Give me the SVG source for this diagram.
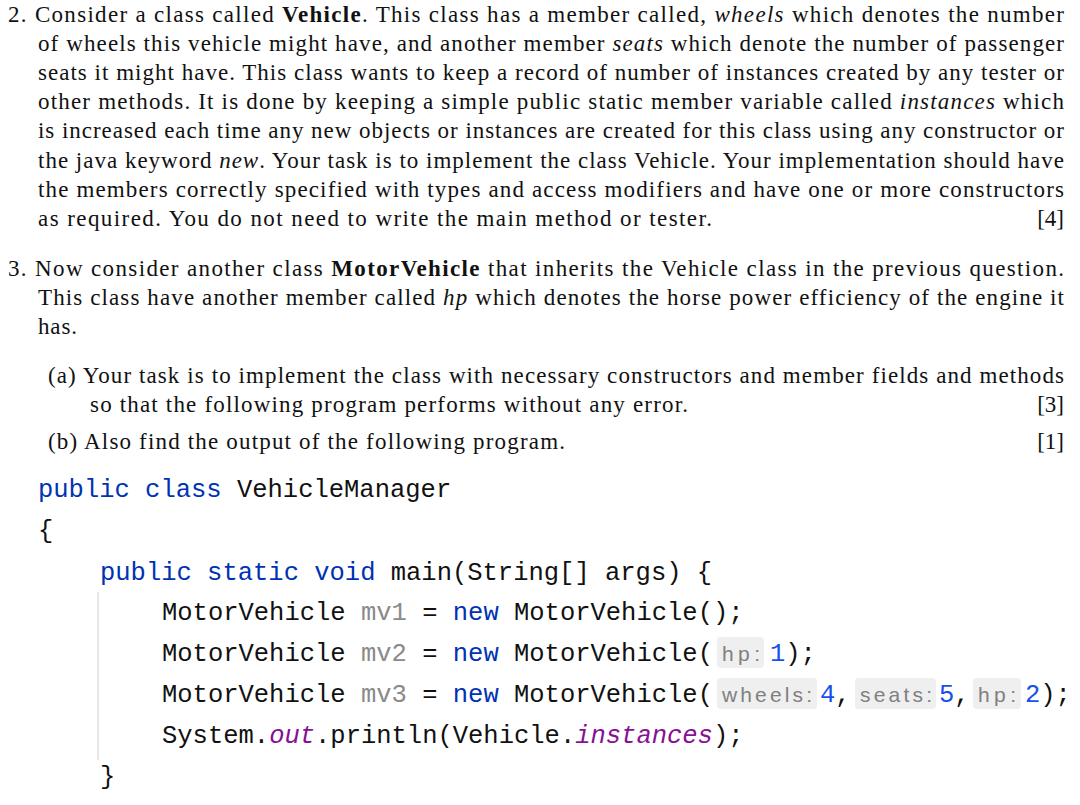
<svg xmlns="http://www.w3.org/2000/svg" width="1080" height="805" viewBox="0 0 1080 805">
<style>
.t{font-family:"Liberation Serif","DejaVu Serif",serif;font-size:23px;fill:#111}
.c{font-family:"Liberation Mono","DejaVu Sans Mono",monospace;font-size:25.5px;fill:#111}
.kw{fill:#0033b3}.v{fill:#8a8a8a}.n{fill:#1750eb}.p{fill:#871094;font-style:italic}
.h{font-family:"Liberation Sans","Noto Sans",sans-serif;font-size:21px;fill:#808080}
.hb{fill:#efefef}
</style>
<rect width="1080" height="805" fill="#fff"/>
<g id="q2" class="t">
<text x="8" y="22" textLength="1056" lengthAdjust="spacing">2. Consider a class called <tspan font-weight="bold">Vehicle</tspan>. This class has a member called, <tspan font-style="italic">wheels</tspan> which denotes the number</text>
<text x="38" y="51" textLength="1026" lengthAdjust="spacing">of wheels this vehicle might have, and another member <tspan font-style="italic">seats</tspan> which denote the number of passenger</text>
<text x="38" y="80" textLength="1026" lengthAdjust="spacing">seats it might have. This class wants to keep a record of number of instances created by any tester or</text>
<text x="38" y="109" textLength="1026" lengthAdjust="spacing">other methods. It is done by keeping a simple public static member variable called <tspan font-style="italic">instances</tspan> which</text>
<text x="38" y="138" textLength="1026" lengthAdjust="spacing">is increased each time any new objects or instances are created for this class using any constructor or</text>
<text x="38" y="168" textLength="1026" lengthAdjust="spacing">the java keyword <tspan font-style="italic">new</tspan>. Your task is to implement the class Vehicle. Your implementation should have</text>
<text x="38" y="197" textLength="1026" lengthAdjust="spacing">the members correctly specified with types and access modifiers and have one or more constructors</text>
<text x="38" y="226" textLength="674" lengthAdjust="spacing">as required. You do not need to write the main method or tester.</text>
<text x="1064" y="226" text-anchor="end">[4]</text>
</g>
<g id="q3" class="t">
<text x="8" y="276" textLength="1056" lengthAdjust="spacing">3. Now consider another class <tspan font-weight="bold">MotorVehicle</tspan> that inherits the Vehicle class in the previous question.</text>
<text x="38" y="305" textLength="1026" lengthAdjust="spacing">This class have another member called <tspan font-style="italic">hp</tspan> which denotes the horse power efficiency of the engine it</text>
<text x="38" y="334" textLength="39" lengthAdjust="spacing">has.</text>
<text x="48" y="383" textLength="1016" lengthAdjust="spacing">(a) Your task is to implement the class with necessary constructors and member fields and methods</text>
<text x="90" y="412" textLength="598" lengthAdjust="spacing">so that the following program performs without any error.</text>
<text x="1064" y="412" text-anchor="end">[3]</text>
<text x="48" y="449" textLength="517" lengthAdjust="spacing">(b) Also find the output of the following program.</text>
<text x="1064" y="449" text-anchor="end">[1]</text>
</g>
<g id="code">
<line x1="98" y1="592" x2="98" y2="760" stroke="#e6e6e6" stroke-width="2"/>
<rect class="hb" x="717" y="637" width="47" height="31" rx="4"/>
<rect class="hb" x="717" y="678" width="100" height="31" rx="4"/>
<rect class="hb" x="855" y="678" width="81" height="31" rx="4"/>
<rect class="hb" x="973" y="678" width="48" height="31" rx="4"/>
<text class="c" x="38" y="497"><tspan class="kw">public class</tspan> VehicleManager</text>
<text class="c" x="38" y="538">{</text>
<text class="c" x="100" y="580"><tspan class="kw">public static void</tspan> main(String[] args) {</text>
<text class="c" x="162" y="620">MotorVehicle <tspan class="v">mv1</tspan> = <tspan class="kw">new</tspan> MotorVehicle();</text>
<text class="c" x="162" y="661">MotorVehicle <tspan class="v">mv2</tspan> = <tspan class="kw">new</tspan> MotorVehicle(</text>
<text class="h" x="722" y="661" textLength="38" lengthAdjust="spacing">hp:</text>
<text class="c" x="770" y="661"><tspan class="n">1</tspan>);</text>
<text class="c" x="162" y="702">MotorVehicle <tspan class="v">mv3</tspan> = <tspan class="kw">new</tspan> MotorVehicle(</text>
<text class="h" x="722" y="702" textLength="90" lengthAdjust="spacing">wheels:</text>
<text class="c" x="820" y="702"><tspan class="n">4</tspan>,</text>
<text class="h" x="860" y="702" textLength="72" lengthAdjust="spacing">seats:</text>
<text class="c" x="939" y="702"><tspan class="n">5</tspan>,</text>
<text class="h" x="978" y="702" textLength="38" lengthAdjust="spacing">hp:</text>
<text class="c" x="1025" y="702"><tspan class="n">2</tspan>);</text>
<text class="c" x="162" y="743">System.<tspan class="p">out</tspan>.println(Vehicle.<tspan class="p">instances</tspan>);</text>
<text class="c" x="100" y="784">}</text>
</g>
</svg>
